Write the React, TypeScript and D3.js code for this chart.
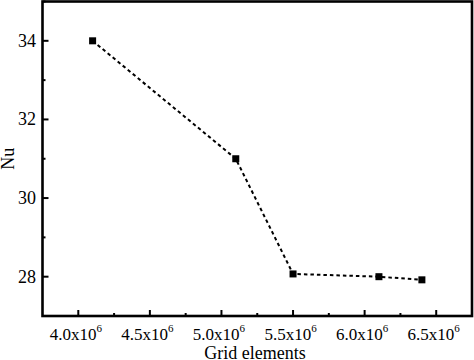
import React from "react";
import * as d3 from "d3";

const gridElements = [4.1e6, 5.1e6, 5.5e6, 6.1e6, 6.4e6];
const nuValues = [34.0, 31.0, 28.07, 28.0, 27.92];
const xTicks = [4.0e6, 4.5e6, 5.0e6, 5.5e6, 6.0e6, 6.5e6];
const xTickLabels = ["4.0x10", "4.5x10", "5.0x10", "5.5x10", "6.0x10", "6.5x10"];
const xMinorTicks = [4.25e6, 4.75e6, 5.25e6, 5.75e6, 6.25e6];
const yTicks = [28, 30, 32, 34];
const yMinorTicks = [27, 29, 31, 33, 35];

const W = 474;
const H = 360;
const L = 42.5;
const R = 472;
const T = 1.5;
const B = 316;

export default function App() {
  const x = d3.scaleLinear().domain([3.75e6, 6.75e6]).range([L, R]);
  const y = d3.scaleLinear().domain([27, 35]).range([B, T]);
  const line = d3
    .line<number>()
    .x((_, i) => x(gridElements[i]))
    .y((d) => y(d));
  const font = "'Liberation Serif', 'Times New Roman', serif";
  return (
    <svg
      width={W}
      height={H}
      style={{ position: "absolute", left: 0, top: 0, background: "#fff" }}
      fontFamily={font}
    >
      <rect x={0} y={0} width={W} height={H} fill="#fff" />
      {xTicks.map((t) => (
        <line key={"xt" + t} x1={x(t)} x2={x(t)} y1={B} y2={B - 6} stroke="#000" strokeWidth={2} />
      ))}
      {xMinorTicks.map((t) => (
        <line key={"xm" + t} x1={x(t)} x2={x(t)} y1={B} y2={B - 3} stroke="#000" strokeWidth={2} />
      ))}
      {yTicks.map((t) => (
        <line key={"yt" + t} x1={L} x2={L + 6} y1={y(t)} y2={y(t)} stroke="#000" strokeWidth={2} />
      ))}
      {yMinorTicks.map((t) => (
        <line key={"ym" + t} x1={L} x2={L + 3} y1={y(t)} y2={y(t)} stroke="#000" strokeWidth={2} />
      ))}
      <rect x={L} y={T} width={R - L} height={B - T} fill="none" stroke="#000" strokeWidth={2.6} />
      <path d={line(nuValues) || ""} fill="none" stroke="#000" strokeWidth={2} strokeDasharray="3.5,3" />
      {nuValues.map((v, i) => (
        <rect
          key={"p" + i}
          x={x(gridElements[i]) - 3.5}
          y={y(v) - 3.5}
          width={7}
          height={7}
          fill="#000"
        />
      ))}
      {xTicks.map((t, i) => (
        <text key={"xl" + t} x={x(t) - 2.5} y={340} fontSize={17} textAnchor="middle" fill="#000">
          {xTickLabels[i]}
          <tspan fontSize={11} dy={-8}>
            6
          </tspan>
        </text>
      ))}
      {yTicks.map((t) => (
        <text key={"yl" + t} x={36} y={y(t) + 6} fontSize={18} textAnchor="end" fill="#000">
          {t}
        </text>
      ))}
      <text x={255} y={359} fontSize={18} textAnchor="middle" fill="#000">
        Grid elements
      </text>
      <text
        x={0}
        y={0}
        fontSize={18}
        textAnchor="middle"
        fill="#000"
        transform={`translate(13.5, ${(T + B) / 2}) rotate(-90)`}
      >
        Nu
      </text>
    </svg>
  );
}
